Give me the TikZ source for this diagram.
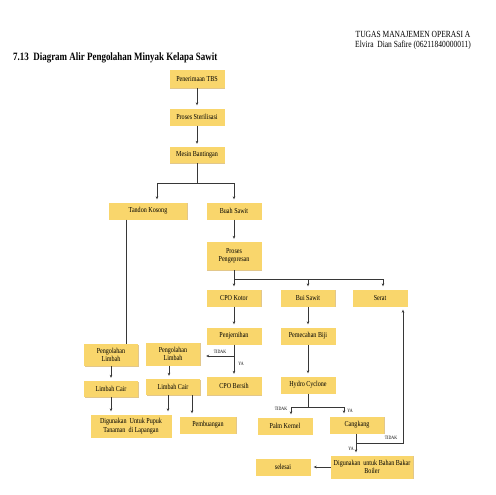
\documentclass[tikz,border=0pt]{standalone}
\usepackage{fontspec}
\setmainfont[FakeStretch=0.8]{Liberation Serif}
\usetikzlibrary{arrows.meta,shadows}

\begin{document}
\begin{tikzpicture}[x=1pt, y=-1pt, >={Stealth[length=3pt,width=2.6pt]},
    box/.style={fill=boxfill, inner sep=1pt, align=center,
      minimum width=55pt, minimum height=17pt,
      font=\fontsize{7.6}{8.4}\selectfont,
      drop shadow={shadow xshift=0.8pt, shadow yshift=-0.8pt, fill=shadowfill, opacity=0.7}},
    link/.style={draw=linegray, line width=0.6pt},
    panah/.style={link, ->, shorten >=3pt},
    tag/.style={font=\fontsize{5}{5}\selectfont, inner sep=0pt}]

  % Colors: box yellow, its shadow, connector grey
  \definecolor{boxfill}{RGB}{249,214,108}
  \definecolor{shadowfill}{RGB}{214,176,90}
  \definecolor{linegray}{RGB}{55,55,55}

  % page, same size as the reference
  \fill[white] (0,0) rectangle (495,495);
  \useasboundingbox (0,0) rectangle (495,495);

  % --- header and title ---
  \node[font=\fontsize{9.4}{10}\selectfont, align=center, inner sep=0pt] (tugas) at (413,40)
    {TUGAS MANAJEMEN OPERASI A\\Elvira\ \ Dian Safire (06211840000011)};
  \node[font=\bfseries\fontsize{11.2}{12}\selectfont, anchor=base west, inner sep=0pt] (judul) at (13,61)
    {7.13\ \ Diagram Alir Pengolahan Minyak Kelapa Sawit};

  % --- main column ---
  \node[box, minimum height=18pt] (tbs) at (197,79) {Penerimaan TBS};
  \node[box] (steril) at (197,117) {Proses Sterilisasi};
  \node[box, minimum height=16pt] (banting) at (197,155) {Mesin Bantingan};
  \node[box, minimum width=78pt] (tandon) at (148,211) {Tandon Kosong};
  \node[box] (buah) at (234,211) {Buah Sawit};
  \node[box, minimum height=28pt] (press) at (234,256) {Proses\\Pengepresan};

  % --- after the press ---
  \node[box, minimum width=54pt] (cpokotor) at (234,298) {CPO Kotor};
  \node[box, minimum width=54pt] (biji) at (308,298) {Bui Sawit};
  \node[box] (serat) at (380,298) {Serat};
  \node[box] (jernih) at (234,336) {Penjernihan};
  \node[box] (pecah) at (308,336) {Pemecahan Biji};
  \node[box, minimum height=18pt] (cpobersih) at (234,386) {CPO Bersih};
  \node[box] (hydro) at (308,385) {Hydro Cyclone};
  \node[box] (kernel) at (285,426) {Palm Kernel};
  \node[box, minimum width=54pt] (cangkang) at (357,425) {Cangkang};
  \node[box, minimum width=82pt, minimum height=23pt] (boiler) at (372,467) {Digunakan\ \ untuk Bahan Bakar\\Boiler};
  \node[box] (selesai) at (283,467) {selesai};

  % --- waste side ---
  \node[box, minimum width=54pt, minimum height=22pt] (limbahA) at (111,355) {Pengolahan\\Limbah};
  \node[box, minimum width=54pt, minimum height=23pt] (limbahB) at (173,354) {Pengolahan\\Limbah};
  \node[box, minimum width=54pt, minimum height=16pt] (cairA) at (111,389) {Limbah Cair};
  \node[box, minimum width=54pt, minimum height=16pt] (cairB) at (173,387) {Limbah Cair};
  \node[box, minimum width=81pt, minimum height=23pt] (pupuk) at (131,426) {Digunakan\ \ Untuk Pupuk\\Tanaman\ \ di Lapangan};
  \node[box, minimum width=56pt] (buang) at (208,425) {Pembuangan};

  % --- connectors: main column ---
  \draw[panah] (tbs) -- (steril);
  \draw[panah] (steril) -- (banting);
  \coordinate (cabang1) at (197,183);
  \draw[link] (banting) -- (cabang1);
  \draw[panah] (cabang1) -| ([xshift=9pt]tandon.north);
  \draw[panah] (cabang1) -| (buah.north);
  \draw[link] ([xshift=-22pt]tandon.south) -- ([xshift=-22pt]tandon.south |- limbahA.north);
  \draw[panah] (buah) -- (press);

  % split after the press
  \coordinate (cabang2) at (234,279);
  \draw[link] (press) -- (cabang2);
  \draw[panah] (cabang2) -- (cpokotor);
  \draw[panah] (cabang2) -| (biji);
  \draw[panah] (cabang2) -| ([xshift=3pt]serat.north);

  % CPO line
  \draw[panah] (cpokotor) -- (jernih);
  \draw[panah] (jernih) -- (cpobersih);
  \coordinate (cabang3) at (234,356);
  \draw[panah, shorten >=6pt] (cabang3) -- (cabang3 -| limbahB.east);
  \node[tag] (tidakA) at (220,352) {TIDAK};
  \node[tag] (yaA) at (241,364) {YA};

  % kernel line
  \draw[panah] (biji) -- (pecah);
  \draw[panah] (pecah) -- (hydro);
  \coordinate (cabang4) at (308,407);
  \draw[link] (hydro) -- (cabang4);
  \draw[panah] (cabang4) -| ([xshift=6pt]kernel.north);
  \draw[panah] (cabang4) -| ([xshift=-13pt]cangkang.north);
  \node[tag] (tidakB) at (281,409) {TIDAK};
  \node[tag] (yaB) at (350,411) {YA};

  % shell: to boiler or back to fibre
  \coordinate (cabang5) at (356,443);
  \draw[link] (cabang5 |- cangkang.south) -- (cabang5);
  \draw[panah] (cabang5) -- (cabang5 |- boiler.north);
  \draw[panah] (cabang5) -| ([xshift=23pt]serat.south);
  \node[tag] (tidakC) at (391,438) {TIDAK};
  \node[tag] (yaC) at (351,449) {YA};
  \draw[panah] (boiler) -- (selesai);

  % --- connectors: waste side ---
  \draw[panah] (limbahA) -- (cairA);
  \draw[panah] ([xshift=-4pt]limbahB.south) -- ([xshift=-4pt]cairB.north);
  \draw[panah] (cairA.south) -- (cairA.south |- pupuk.north);
  \draw[panah] ([xshift=-5pt]cairB.south) -- ([xshift=-5pt]cairB.south |- pupuk.north);
  \draw[panah] ([xshift=19pt]cairB.south) -- ([xshift=19pt]cairB.south |- buang.north);

\end{tikzpicture}
\end{document}
